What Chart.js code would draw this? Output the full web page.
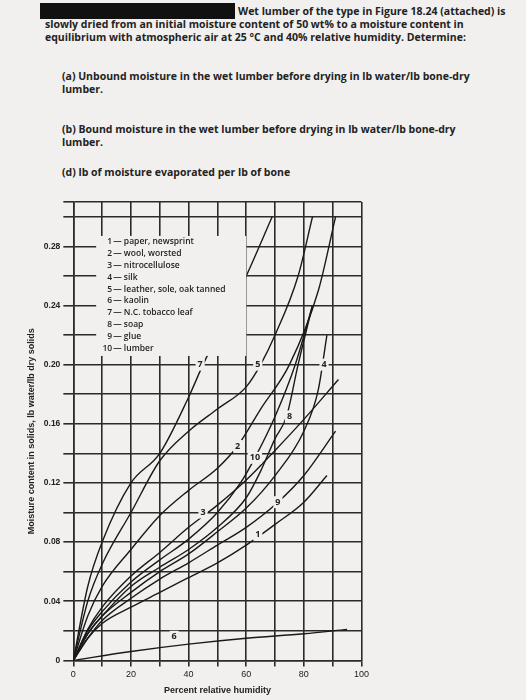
<!DOCTYPE html><html><head><meta charset="utf-8">
<script src="https://cdn.jsdelivr.net/npm/chart.js@4"></script>
<style>
body{margin:0;background:#f1f0ee;font-family:"Open Sans",Arial,sans-serif;color:#222;width:526px;height:700px;overflow:hidden;position:relative}
.t{position:absolute;font-weight:bold;font-size:10.5px;line-height:13px}
#wrap{position:absolute;left:0;top:192px;width:372px;height:508px}
</style></head><body>
<div style="position:absolute;left:40px;top:3px;width:195px;height:16px;background:#111"></div>
<div class="t" style="left:238px;top:5px;">Wet lumber of the type in Figure 18.24 (attached) is</div>
<div class="t" style="left:45px;top:18px;width:470px">slowly dried from an initial moisture content of 50 wt% to a moisture content in equilibrium with atmospheric air at 25 °C and 40% relative humidity. Determine:</div>
<div class="t" style="left:62px;top:70px;width:440px">(a) Unbound moisture in the wet lumber before drying in lb water/lb bone-dry lumber.</div>
<div class="t" style="left:62px;top:123px;width:430px">(b) Bound moisture in the wet lumber before drying in lb water/lb bone-dry lumber.</div>
<div class="t" style="left:62px;top:166px;">(d) lb of moisture evaporated per lb of bone</div>
<div id="wrap"><canvas id="c"></canvas></div>
<script>
const c1=[[0,0],[5,0.015],[10,0.025],[20,0.036],[30,0.046],[40,0.056],[50,0.066],[60,0.078],[70,0.092],[80,0.107],[88,0.125]];
const c2=[[0,0],[5,0.03],[10,0.05],[20,0.075],[30,0.098],[40,0.115],[50,0.13],[57,0.145],[65,0.17],[75,0.2],[85,0.25],[91,0.3]];
const c3=[[0,0],[5,0.021],[10,0.036],[20,0.057],[30,0.073],[40,0.09],[50,0.105],[60,0.122],[70,0.142],[80,0.163],[92,0.19]];
const c4=[[0,0],[5,0.018],[10,0.03],[20,0.046],[30,0.06],[40,0.072],[50,0.087],[60,0.103],[70,0.125],[80,0.155],[85,0.183],[88,0.22]];
const c5=[[0,0],[5,0.04],[10,0.065],[20,0.1],[30,0.135],[40,0.155],[50,0.17],[60,0.185],[65,0.2],[70,0.22],[78,0.26],[83,0.3]];
const c6=[[0,0],[20,0.006],[40,0.011],[60,0.015],[80,0.018],[95,0.021]];
const c7=[[0,0],[5,0.05],[10,0.08],[20,0.12],[30,0.14],[40,0.178],[45,0.2],[50,0.22],[60,0.26],[69,0.3]];
const c8=[[0,0],[5,0.018],[10,0.03],[20,0.05],[30,0.063],[40,0.075],[50,0.09],[60,0.11],[65,0.128],[70,0.15],[74,0.165],[78,0.2],[83,0.24]];
const c9=[[0,0],[5,0.015],[10,0.027],[20,0.042],[30,0.055],[40,0.066],[50,0.078],[60,0.09],[71,0.107],[80,0.125],[91,0.155]];
const c10=[[0,0],[5,0.02],[10,0.033],[20,0.053],[30,0.068],[40,0.082],[50,0.1],[58,0.12],[63,0.137],[70,0.165],[77,0.2],[83,0.24]];
const curves=[c1,c2,c3,c4,c5,c6,c7,c8,c9,c10];
const curveLabels=[["1",64,0.085],["2",57,0.145],["3",45,0.1],["4",87,0.2],["5",64,0.2],["6",35,0.016],["7",44,0.2],["8",75,0.165],["9",71,0.107],["10",63,0.137]];
const legendLines=["1— paper, newsprint","2— wool, worsted","3— nitrocellulose","4— silk","5— leather, sole, oak tanned","6— kaolin","7— N.C. tobacco leaf","8— soap","9— glue","10— lumber"];
const deco={id:'deco',afterDatasetsDraw(ch){const {ctx,scales:{x,y}}=ch;ctx.save();
ctx.font='bold 9px "Open Sans"';ctx.textBaseline='middle';
curveLabels.forEach(([t,a,b])=>{const px=x.getPixelForValue(a),py=y.getPixelForValue(b);const w=ctx.measureText(t).width;ctx.fillStyle='#f1f0ee';ctx.fillRect(px-w/2-2,py-6,w+4,12);ctx.fillStyle='#222';ctx.textAlign='center';ctx.fillText(t,px,py);});
ctx.font='600 8.5px "Open Sans"';
const lx=x.getPixelForValue(10),ly0=y.getPixelForValue(0.283);
const h=11.8;
ctx.fillStyle='#f1f0ee';ctx.fillRect(lx-6,ly0-6,x.getPixelForValue(60)-lx+6,h*10+2);
ctx.fillStyle='#222';legendLines.forEach((s,i)=>{const t=s.split('—');ctx.textAlign='right';ctx.fillText(t[0],lx+10,ly0+i*h);ctx.textAlign='left';ctx.fillText('—'+t[1],lx+11,ly0+i*h);});
ctx.restore();}};
new Chart(document.getElementById('c'),{type:'scatter',
data:{datasets:curves.map(d=>({data:d.map(p=>({x:p[0],y:p[1]})),showLine:true,cubicInterpolationMode:'monotone',borderColor:'#1a1a1a',borderWidth:1.4,pointRadius:0}))},
options:{responsive:true,maintainAspectRatio:false,animation:false,
layout:{padding:{top:10,right:10,bottom:0,left:22}},
plugins:{legend:{display:false},tooltip:{enabled:false}},
scales:{x:{type:'linear',min:0,max:100,ticks:{stepSize:10,color:'#222',font:{size:9},maxRotation:0,autoSkip:false,callback:v=>v%20===0?v:''},grid:{color:'#2a2a2a',lineWidth:1.6,tickLength:6},border:{color:'#2a2a2a',width:1.6},
title:{display:true,text:'Percent relative humidity',color:'#222',font:{size:9,weight:'bold'},padding:{top:2}}},
y:{min:0,max:0.31,ticks:{stepSize:0.02,color:'#222',autoSkip:false,font:{size:8.5,weight:'bold'},callback:v=>{const r=Math.round(v*100);return r%4===0&&r<=28?(r===0?'0':v.toFixed(2)):'';}},grid:{color:'#2a2a2a',lineWidth:1.6,tickLength:10},border:{color:'#2a2a2a',width:1.6},
title:{display:true,text:'Moisture content in solids, lb water/lb dry solids',color:'#222',font:{size:9,weight:'bold'}}}}},
plugins:[deco]});
</script></body></html>
